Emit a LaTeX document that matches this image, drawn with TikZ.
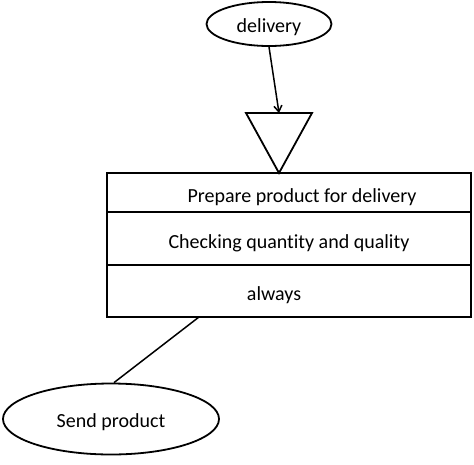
\documentclass[tikz,border=0pt]{standalone}
\usepackage{fontspec}
\setmainfont{Carlito}[Ligatures=NoCommon]
\usetikzlibrary{positioning,arrows.meta,calc,shapes.geometric}

\begin{document}
\begin{tikzpicture}[
  x=1pt, y=-1pt,
  font=\fontsize{20}{24}\selectfont,
  e/.style={draw, ellipse, line width=1.8pt, inner sep=0pt, text height=21pt, text depth=4pt},
  row/.style={draw, rectangle, line width=1.8pt, minimum width=364pt, inner sep=0pt, outer sep=0pt, text height=23pt, text depth=4pt},
  arr/.style={-{Straight Barb[length=6pt,width=8pt]}, line width=1.5pt},
  ln/.style={line width=1.5pt}
]
  \useasboundingbox (0,0) rectangle (474,464);
  \node[e, minimum width=125pt, minimum height=44pt] (delivery) at (269,24) {delivery};
  \coordinate (tri) at (279,113);
  \node[row, minimum height=39pt] (prep) at (289,192.5) {\hspace*{26pt}Prepare product for delivery};
  \node[row, minimum height=53pt, below=0pt of prep] (check) {Checking quantity and quality};
  \node[row, minimum height=52pt, below=0pt of check] (always) {always\hspace*{30pt}};
  \node[e, minimum width=216pt, minimum height=71pt] (send) at (111,419) {Send product};
  % triangle sits on top of the box
  \draw[line width=1.8pt, line join=miter] ($(tri)+(-33,0)$) -- ($(tri)+(33,0)$) -- (prep.north -| tri) -- cycle;
  \draw[arr] (delivery.south) -- (tri);
  \coordinate (out) at ([xshift=92pt]always.south west);
  \draw[ln] (out) -- ([xshift=3pt]send.north);
\end{tikzpicture}
\end{document}
